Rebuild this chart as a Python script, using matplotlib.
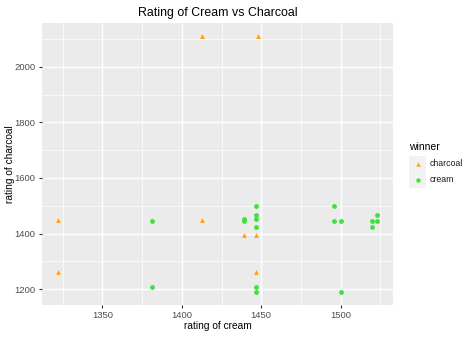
import matplotlib.pyplot as plt
from matplotlib.ticker import MultipleLocator

plt.rcParams['font.family'] = ['Liberation Sans', 'DejaVu Sans']

# games won by charcoal
charcoal_x = [1322, 1322, 1413, 1413, 1439, 1447, 1447, 1448]
charcoal_y = [1448, 1263, 1448, 2111, 1394, 1394, 1263, 2111]

# games won by cream
cream_x = [1381, 1381, 1439, 1439, 1447, 1447, 1447, 1447, 1447, 1447,
           1496, 1496, 1500, 1500, 1520, 1523, 1523, 1520]
cream_y = [1445, 1210, 1445, 1452, 1501, 1468, 1452, 1423, 1210, 1190,
           1501, 1445, 1445, 1190, 1445, 1468, 1445, 1423]

winners = ['charcoal', 'cream']
colors = ['#FFA500', '#3FE03F']
markers = ['^', 'o']

fig = plt.figure(figsize=(4.74, 3.38), dpi=100)
ax = fig.add_axes([0.089, 0.098, 0.74, 0.834])
ax.set_facecolor('#EBEBEB')

ax.scatter(charcoal_x, charcoal_y, marker='^', s=12, color=colors[0],
           linewidths=0, zorder=3)
ax.scatter(cream_x, cream_y, marker='o', s=12, color=colors[1],
           linewidths=0, zorder=3)

ax.set_xlim(1312, 1533)
ax.set_ylim(1144, 2157)
ax.xaxis.set_major_locator(MultipleLocator(50))
ax.xaxis.set_minor_locator(MultipleLocator(25))
ax.yaxis.set_major_locator(MultipleLocator(200))
ax.yaxis.set_minor_locator(MultipleLocator(100))
ax.grid(which='major', color='white', linewidth=1.0)
ax.grid(which='minor', color='white', linewidth=0.5)
ax.set_axisbelow(True)
for s in ax.spines.values():
    s.set_visible(False)
ax.tick_params(which='major', length=2.2, color='#333333', labelsize=6.8,
               labelcolor='#4D4D4D', pad=2.5)
ax.tick_params(which='minor', length=0)

ax.set_title('Rating of Cream vs Charcoal', fontsize=8.9, pad=5)
ax.set_xlabel('rating of cream', fontsize=7.3)
ax.set_ylabel('rating of charcoal', fontsize=7.3)
ax.xaxis.set_label_coords(0.5, -0.075)
ax.xaxis.label.set_va('center')
ax.yaxis.set_label_coords(-0.091, 0.5)
ax.yaxis.label.set_va('center')
ax.yaxis.label.set_ha('center')

# legend: grey key boxes with the marker, label to the right
fig.text(0.863, 0.565, 'winner', fontsize=7.5, va='center', ha='left')
key_ax = fig.add_axes([0.863, 0.444, 0.036, 0.095])
key_ax.set_facecolor('#F2F2F2')
key_ax.set_xlim(0, 1)
key_ax.set_ylim(0, len(winners))
key_ax.set_xticks([])
key_ax.set_yticks([])
for s in key_ax.spines.values():
    s.set_visible(False)
for i, (name, c, m) in enumerate(zip(winners, colors, markers)):
    ypos = len(winners) - i - 0.5
    key_ax.scatter([0.5], [ypos], marker=m, s=10, color=c, linewidths=0)
    fig.text(0.907, 0.444 + 0.095 * ypos / len(winners), name,
             fontsize=6.3, va='center', ha='left', color='#1A1A1A')

fig.savefig('out.png', dpi=100)
